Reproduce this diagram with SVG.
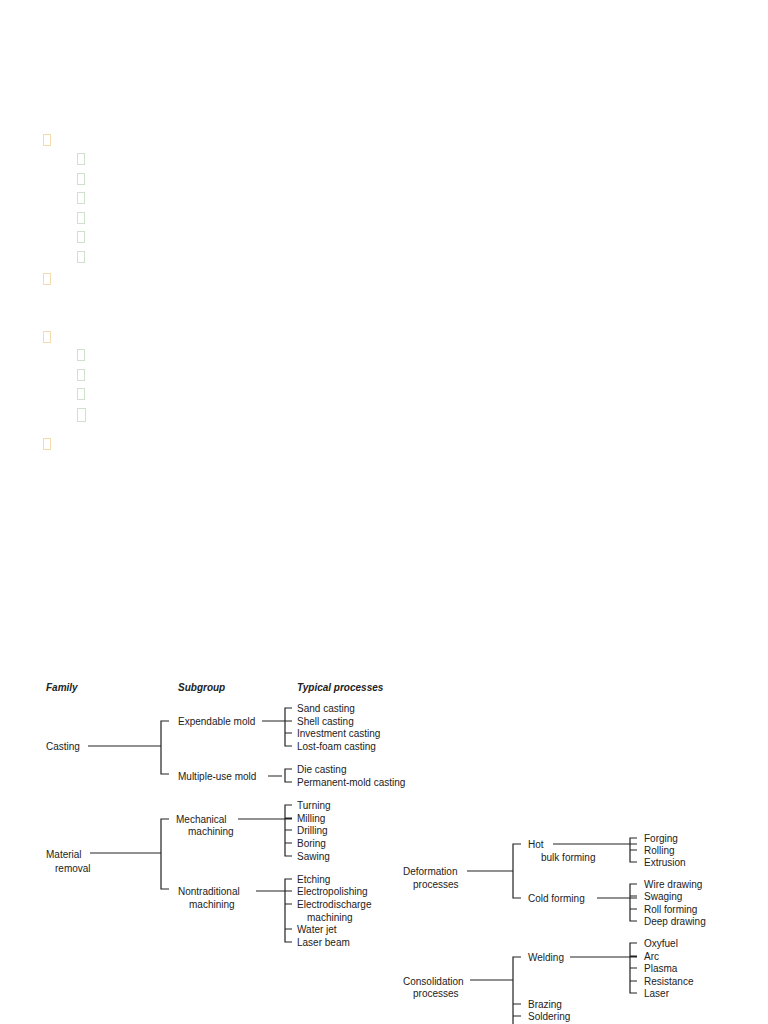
<svg xmlns="http://www.w3.org/2000/svg" width="768" height="1024" viewBox="0 0 768 1024">
<style>
text{font-family:"Liberation Sans",Arial,sans-serif;font-size:10px;fill:#222}
.h{font-style:italic;font-weight:bold}
.c path{stroke:#222;stroke-width:1.2;fill:none}
.o{fill:none;stroke:#f2dcae;stroke-width:1}
.g{fill:none;stroke:#cfe0cc;stroke-width:1}
</style>
<rect width="768" height="1024" fill="#fff"/>
<g id="bullets">
<rect class="o" x="43.5" y="134.5" width="7" height="11"/>
<rect class="g" x="77.5" y="153.5" width="7" height="11"/>
<rect class="g" x="77.5" y="173.5" width="7" height="11"/>
<rect class="g" x="77.5" y="192.5" width="7" height="11"/>
<rect class="g" x="77.5" y="212.5" width="7" height="11"/>
<rect class="g" x="77.5" y="231.5" width="7" height="11"/>
<rect class="g" x="77.5" y="251.5" width="7" height="11"/>
<rect class="o" x="43.5" y="273.5" width="7" height="11"/>
<rect class="o" x="43.5" y="331.5" width="7" height="11"/>
<rect class="g" x="77.5" y="349.5" width="7" height="11"/>
<rect class="g" x="77.5" y="369.5" width="7" height="11"/>
<rect class="g" x="77.5" y="388.5" width="7" height="11"/>
<rect class="g" x="77.5" y="408.5" width="8" height="13"/>
<rect class="o" x="43.5" y="438.5" width="7" height="11"/>
</g>
<g class="c" id="connectors">
<path d="M88 746H161M169 721H161V774H169M262 721H292M292 708H285V746H292M285 721H292M285 733H292"/>
<path d="M268 776H282M292 769H285V782H292"/>
<path d="M90 853H161M169 819H161V889H169M238 819H292M292 805H285V856H292M285 818H292M285 830H292M285 843H292"/>
<path d="M256 891H292M292 879H285V942H292M285 904H292M285 929H292"/>
<path d="M467 871H513M521 844H513V898H521M553 844H637M637 838H630V862H637M630 850H637"/>
<path d="M597 898H637M637 884H630V921H637M630 896H637M630 909H637"/>
<path d="M470 980H513M521 957H513V1024M570 957H637M637 943H630V993H637M630 956H637M630 968H637M630 981H637M513 1004H521M513 1016H521"/>
</g>
<g id="headers">
<text class="h" x="46" y="691">Family</text>
<text class="h" x="178" y="691">Subgroup</text>
<text class="h" x="297" y="691">Typical processes</text>
</g>
<g id="casting"><text x="46" y="750">Casting</text></g>
<g id="expendable"><text x="178" y="725">Expendable mold</text>
<text x="297" y="712">Sand casting</text><text x="297" y="725">Shell casting</text><text x="297" y="737">Investment casting</text><text x="297" y="750">Lost-foam casting</text></g>
<g id="multiple"><text x="178" y="780">Multiple-use mold</text>
<text x="297" y="773">Die casting</text><text x="297" y="786">Permanent-mold casting</text></g>
<g id="material"><text x="46" y="858">Material</text><text x="55" y="872">removal</text></g>
<g id="mechanical"><text x="176" y="823">Mechanical</text><text x="188" y="835">machining</text>
<text x="297" y="809">Turning</text><text x="297" y="822">Milling</text><text x="297" y="834">Drilling</text><text x="297" y="847">Boring</text><text x="297" y="860">Sawing</text></g>
<g id="nontrad"><text x="178" y="895">Nontraditional</text><text x="189" y="908">machining</text>
<text x="297" y="883">Etching</text><text x="297" y="895">Electropolishing</text><text x="297" y="908">Electrodischarge</text><text x="307" y="921">machining</text><text x="297" y="933">Water jet</text><text x="297" y="946">Laser beam</text></g>
<g id="deformation"><text x="403" y="875">Deformation</text><text x="413" y="888">processes</text></g>
<g id="hot"><text x="528" y="848">Hot</text><text x="541" y="861">bulk forming</text>
<text x="644" y="842">Forging</text><text x="644" y="854">Rolling</text><text x="644" y="866">Extrusion</text></g>
<g id="cold"><text x="528" y="902">Cold forming</text>
<text x="644" y="888">Wire drawing</text><text x="644" y="900">Swaging</text><text x="644" y="913">Roll forming</text><text x="644" y="925">Deep drawing</text></g>
<g id="consolidation"><text x="403" y="985">Consolidation</text><text x="413" y="997">processes</text></g>
<g id="welding"><text x="528" y="961">Welding</text>
<text x="644" y="947">Oxyfuel</text><text x="644" y="960">Arc</text><text x="644" y="972">Plasma</text><text x="644" y="985">Resistance</text><text x="644" y="997">Laser</text></g>
<g id="brazing"><text x="528" y="1008">Brazing</text></g>
<g id="soldering"><text x="528" y="1020">Soldering</text></g>
</svg>
